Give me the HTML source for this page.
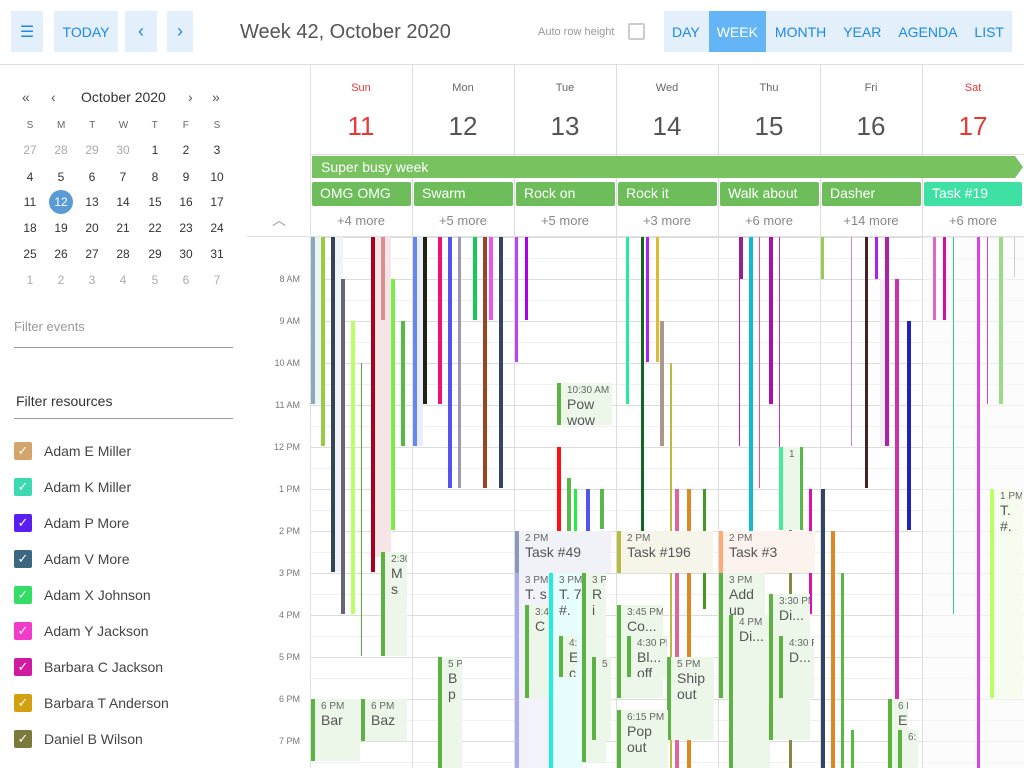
<!DOCTYPE html>
<html><head><meta charset="utf-8"><style>
*{box-sizing:border-box;margin:0;padding:0}
body{width:1024px;height:768px;overflow:hidden;background:#fff;font-family:"Liberation Sans",sans-serif;color:#444;position:relative}
.a{position:absolute}
.btn{position:absolute;top:11px;height:41px;background:#e3f0fc;color:#1e88e5;font-size:14px;display:flex;align-items:center;justify-content:center}
.vb{height:41px;display:flex;align-items:center;padding:0 8px;color:#1e88e5;font-size:14px}
.dh{position:absolute;top:82px;width:102px;text-align:center}
.dh .n{font-size:11px;color:#666}
.dh .d{font-size:26px;color:#555;margin-top:17px}
.red{color:#e53935!important}
.ad{position:absolute;top:182px;height:24px;background:#6dbd5a;color:#fff;font-size:14px;padding:3px 8px;border-radius:2px;z-index:2}
.more{position:absolute;top:213px;width:102px;text-align:center;font-size:13px;color:#888}
.tl{position:absolute;left:250px;width:50px;text-align:right;font-size:9px;color:#777}
.b{position:absolute}
.ev{position:absolute;background:#edf7e9;border-left:4px solid #5db342;overflow:hidden;padding:2px 0 0 6px;white-space:nowrap}
.ev .t{font-size:10px;color:#666}
.ev .h{font-size:14px;color:#555;line-height:16px;white-space:normal}
.mc{position:absolute;width:30px;text-align:center;font-size:12px;color:#333}
.g{color:#aaa}
.cb{position:absolute;left:14px;width:18px;height:18px;border-radius:2px;color:#fff;font-size:13px;text-align:center;line-height:18px}
.cl{position:absolute;left:44px;font-size:14px;color:#444}
</style></head><body>
<!-- top bar -->
<div class="btn" style="left:11px;width:32px;font-size:16px">☰</div>
<div class="btn" style="left:54px;width:64px">TODAY</div>
<div class="btn" style="left:125px;width:32px;font-size:18px">‹</div>
<div class="btn" style="left:167px;width:26px;font-size:18px">›</div>
<div class="a" style="left:240px;top:21px;font-size:20px;color:#555">Week 42, October 2020</div>
<div class="a" style="left:538px;top:26px;font-size:11px;color:#999">Auto row height</div>
<div class="a" style="left:628px;top:23px;width:17px;height:17px;border:2px solid #ccc;border-radius:2px"></div>
<div class="a" style="left:664px;top:11px;height:41px;width:348px;background:#e3f0fc;display:flex;justify-content:space-between">
<div class="vb">DAY</div><div class="vb" style="background:#64b5f6;color:#fff">WEEK</div><div class="vb">MONTH</div><div class="vb">YEAR</div><div class="vb">AGENDA</div><div class="vb">LIST</div></div>
<div class="a" style="left:0;top:64px;width:1024px;height:1px;background:#e0e0e0"></div>
<div class="a" style="left:310px;top:64px;width:1px;height:704px;background:#e0e0e0"></div>

<!-- mini calendar -->
<div class="a" style="left:22px;top:89px;font-size:14px;color:#555">«</div>
<div class="a" style="left:51px;top:89px;font-size:14px;color:#555">‹</div>
<div class="a" style="left:81px;top:89px;font-size:14px;color:#333">October 2020</div>
<div class="a" style="left:188px;top:89px;font-size:14px;color:#555">›</div>
<div class="a" style="left:212px;top:89px;font-size:14px;color:#555">»</div>
<div class="a" style="left:15px;top:120px;width:217px;font-size:10px;color:#666;display:flex;justify-content:space-between"><span style="width:30px;text-align:center">S</span><span style="width:30px;text-align:center">M</span><span style="width:30px;text-align:center">T</span><span style="width:30px;text-align:center">W</span><span style="width:30px;text-align:center">T</span><span style="width:30px;text-align:center">F</span><span style="width:30px;text-align:center">S</span></div>
<div class="a" style="left:49px;top:190px;width:24px;height:24px;border-radius:50%;background:#5b9bd5"></div>
<div class="mc g" style="left:15px;top:143px">27</div><div class="mc g" style="left:46px;top:143px">28</div><div class="mc g" style="left:77px;top:143px">29</div><div class="mc g" style="left:108px;top:143px">30</div><div class="mc" style="left:140px;top:143px">1</div><div class="mc" style="left:171px;top:143px">2</div><div class="mc" style="left:202px;top:143px">3</div>
<div class="mc" style="left:15px;top:170px">4</div><div class="mc" style="left:46px;top:170px">5</div><div class="mc" style="left:77px;top:170px">6</div><div class="mc" style="left:108px;top:170px">7</div><div class="mc" style="left:140px;top:170px">8</div><div class="mc" style="left:171px;top:170px">9</div><div class="mc" style="left:202px;top:170px">10</div>
<div class="mc" style="left:15px;top:195px">11</div><div class="mc" style="left:46px;top:195px;color:#fff">12</div><div class="mc" style="left:77px;top:195px">13</div><div class="mc" style="left:108px;top:195px">14</div><div class="mc" style="left:140px;top:195px">15</div><div class="mc" style="left:171px;top:195px">16</div><div class="mc" style="left:202px;top:195px">17</div>
<div class="mc" style="left:15px;top:221px">18</div><div class="mc" style="left:46px;top:221px">19</div><div class="mc" style="left:77px;top:221px">20</div><div class="mc" style="left:108px;top:221px">21</div><div class="mc" style="left:140px;top:221px">22</div><div class="mc" style="left:171px;top:221px">23</div><div class="mc" style="left:202px;top:221px">24</div>
<div class="mc" style="left:15px;top:247px">25</div><div class="mc" style="left:46px;top:247px">26</div><div class="mc" style="left:77px;top:247px">27</div><div class="mc" style="left:108px;top:247px">28</div><div class="mc" style="left:140px;top:247px">29</div><div class="mc" style="left:171px;top:247px">30</div><div class="mc" style="left:202px;top:247px">31</div>
<div class="mc g" style="left:15px;top:273px">1</div><div class="mc g" style="left:46px;top:273px">2</div><div class="mc g" style="left:77px;top:273px">3</div><div class="mc g" style="left:108px;top:273px">4</div><div class="mc g" style="left:140px;top:273px">5</div><div class="mc g" style="left:171px;top:273px">6</div><div class="mc g" style="left:202px;top:273px">7</div>

<div class="a" style="left:14px;top:319px;font-size:13px;color:#999">Filter events</div>
<div class="a" style="left:14px;top:347px;width:219px;height:1px;background:#999"></div>
<div class="a" style="left:16px;top:393px;font-size:14px;color:#333">Filter resources</div>
<div class="a" style="left:14px;top:418px;width:219px;height:1px;background:#999"></div>
<div class="cb" style="top:442px;background:#d4a56a">✓</div><div class="cl" style="top:443px">Adam E Miller</div>
<div class="cb" style="top:478px;background:#3dd9b0">✓</div><div class="cl" style="top:479px">Adam K Miller</div>
<div class="cb" style="top:514px;background:#5b1ef0">✓</div><div class="cl" style="top:515px">Adam P More</div>
<div class="cb" style="top:550px;background:#3d6680">✓</div><div class="cl" style="top:551px">Adam V More</div>
<div class="cb" style="top:586px;background:#33dd66">✓</div><div class="cl" style="top:587px">Adam X Johnson</div>
<div class="cb" style="top:622px;background:#f03cc8">✓</div><div class="cl" style="top:623px">Adam Y Jackson</div>
<div class="cb" style="top:658px;background:#d01aa0">✓</div><div class="cl" style="top:659px">Barbara C Jackson</div>
<div class="cb" style="top:694px;background:#d4a010">✓</div><div class="cl" style="top:695px">Barbara T Anderson</div>
<div class="cb" style="top:730px;background:#7a7a3a">✓</div><div class="cl" style="top:731px">Daniel B Wilson</div>

<!-- day headers -->
<div class="dh" style="left:310px"><div class="n red">Sun</div><div class="d red">11</div></div>
<div class="dh" style="left:412px"><div class="n">Mon</div><div class="d">12</div></div>
<div class="dh" style="left:514px"><div class="n">Tue</div><div class="d">13</div></div>
<div class="dh" style="left:616px"><div class="n">Wed</div><div class="d">14</div></div>
<div class="dh" style="left:718px"><div class="n">Thu</div><div class="d">15</div></div>
<div class="dh" style="left:820px"><div class="n">Fri</div><div class="d">16</div></div>
<div class="dh" style="left:922px"><div class="n red">Sat</div><div class="d red">17</div></div>
<div class="a" style="left:310px;top:154px;width:714px;height:1px;background:#e0e0e0"></div>
<div class="a" style="left:247px;top:236px;width:777px;height:1px;background:#e0e0e0"></div>
<svg class="a" style="left:311px;top:155px;z-index:2" width="713" height="24"><polygon points="1,1 704,1 712,12 704,23 1,23" fill="#78c260"/><text x="10" y="17" font-size="14" fill="#fff" font-family="Liberation Sans">Super busy week</text></svg>
<div class="ad" style="left:312px;width:99px">OMG OMG</div>
<div class="ad" style="left:414px;width:99px">Swarm</div>
<div class="ad" style="left:516px;width:99px">Rock on</div>
<div class="ad" style="left:618px;width:99px">Rock it</div>
<div class="ad" style="left:720px;width:99px">Walk about</div>
<div class="ad" style="left:822px;width:99px">Dasher</div>
<div class="ad" style="left:924px;width:98px;background:#3ee0a4">Task #19</div>
<div class="more" style="left:310px">+4 more</div><div class="more" style="left:412px">+5 more</div><div class="more" style="left:514px">+5 more</div><div class="more" style="left:616px">+3 more</div><div class="more" style="left:718px">+6 more</div><div class="more" style="left:820px">+14 more</div><div class="more" style="left:922px">+6 more</div>
<div class="a" style="left:272px;top:210px;font-size:14px;color:#999">︿</div>

<!-- grid -->
<div class="a" style="left:310px;top:237px;width:714px;height:531px;background:repeating-linear-gradient(to bottom,#ddd 0,#ddd 1px,transparent 1px,transparent 21px,#f0f0f0 21px,#f0f0f0 22px,transparent 22px,transparent 42px)"></div>
<div class="a" style="left:412px;top:65px;width:1px;height:703px;background:#ddd"></div>
<div class="a" style="left:514px;top:65px;width:1px;height:703px;background:#ddd"></div>
<div class="a" style="left:616px;top:65px;width:1px;height:703px;background:#ddd"></div>
<div class="a" style="left:718px;top:65px;width:1px;height:703px;background:#ddd"></div>
<div class="a" style="left:820px;top:65px;width:1px;height:703px;background:#ddd"></div>
<div class="a" style="left:922px;top:65px;width:1px;height:703px;background:#ddd"></div>
<div class="tl" style="top:274px">8 AM</div><div class="tl" style="top:316px">9 AM</div><div class="tl" style="top:358px">10 AM</div><div class="tl" style="top:400px">11 AM</div><div class="tl" style="top:442px">12 PM</div><div class="tl" style="top:484px">1 PM</div><div class="tl" style="top:526px">2 PM</div><div class="tl" style="top:568px">3 PM</div><div class="tl" style="top:610px">4 PM</div><div class="tl" style="top:652px">5 PM</div><div class="tl" style="top:694px">6 PM</div><div class="tl" style="top:736px">7 PM</div>

<!-- faint bgs -->
<div class="b" style="left:313px;top:237px;width:8px;height:167px;background:#eef3f5"></div>
<div class="b" style="left:335px;top:237px;width:8px;height:335px;background:#f2f3f6"></div>
<div class="b" style="left:375px;top:237px;width:16px;height:320px;background:#f7e4e7"></div>
<div class="b" style="left:415px;top:237px;width:8px;height:209px;background:#eaeefc"></div>
<div class="b" style="left:517px;top:573px;width:30px;height:195px;background:#f2f2fb"></div>
<div class="b" style="left:880px;top:279px;width:10px;height:167px;background:#f7eef5"></div>
<div class="b" style="left:923px;top:237px;width:101px;height:531px;background:#fafafa;opacity:.6"></div>
<!-- bars -->
<div class="b" style="left:311px;top:237px;width:4px;height:167px;background:#88aabb"></div>
<div class="b" style="left:321px;top:237px;width:4px;height:209px;background:#99cc44"></div>
<div class="b" style="left:331px;top:237px;width:4px;height:335px;background:#334455"></div>
<div class="b" style="left:341px;top:279px;width:4px;height:335px;background:#666677"></div>
<div class="b" style="left:351px;top:321px;width:4px;height:293px;background:#bbff66"></div>
<div class="b" style="left:361px;top:363px;width:1px;height:293px;background:#55aa44"></div>
<div class="b" style="left:371px;top:237px;width:4px;height:335px;background:#aa0022"></div>
<div class="b" style="left:381px;top:237px;width:4px;height:83px;background:#d99090"></div>
<div class="b" style="left:391px;top:279px;width:4px;height:251px;background:#77ee44"></div>
<div class="b" style="left:401px;top:321px;width:4px;height:125px;background:#55bb44"></div>
<div class="b" style="left:413px;top:237px;width:4px;height:209px;background:#6688ee"></div>
<div class="b" style="left:423px;top:237px;width:4px;height:167px;background:#222211"></div>
<div class="b" style="left:438px;top:237px;width:4px;height:167px;background:#ee1177"></div>
<div class="b" style="left:448px;top:237px;width:4px;height:251px;background:#5555ee"></div>
<div class="b" style="left:458px;top:237px;width:3px;height:251px;background:#9999bb"></div>
<div class="b" style="left:473px;top:237px;width:4px;height:83px;background:#11cc55"></div>
<div class="b" style="left:483px;top:237px;width:4px;height:251px;background:#994422"></div>
<div class="b" style="left:489px;top:237px;width:4px;height:83px;background:#ee55ee"></div>
<div class="b" style="left:499px;top:237px;width:4px;height:251px;background:#334466"></div>
<div class="b" style="left:515px;top:237px;width:3px;height:125px;background:#bb44ee"></div>
<div class="b" style="left:525px;top:237px;width:3px;height:83px;background:#aa00ee"></div>
<div class="b" style="left:557px;top:447px;width:4px;height:110px;background:#ff1111"></div>
<div class="b" style="left:567px;top:478px;width:4px;height:90px;background:#55bb44"></div>
<div class="b" style="left:574px;top:489px;width:3px;height:70px;background:#22ee44"></div>
<div class="b" style="left:586px;top:489px;width:4px;height:70px;background:#5555ee"></div>
<div class="b" style="left:600px;top:489px;width:4px;height:40px;background:#55bb44"></div>
<div class="b" style="left:626px;top:237px;width:3px;height:167px;background:#22ee99"></div>
<div class="b" style="left:641px;top:237px;width:3px;height:320px;background:#116622"></div>
<div class="b" style="left:646px;top:237px;width:3px;height:125px;background:#aa22ee"></div>
<div class="b" style="left:656px;top:237px;width:3px;height:125px;background:#ddbb33"></div>
<div class="b" style="left:660px;top:321px;width:4px;height:125px;background:#aa9988"></div>
<div class="b" style="left:670px;top:363px;width:2px;height:405px;background:#bbbb44"></div>
<div class="b" style="left:675px;top:489px;width:4px;height:279px;background:#dd6699"></div>
<div class="b" style="left:687px;top:489px;width:4px;height:279px;background:#dd8822"></div>
<div class="b" style="left:703px;top:489px;width:3px;height:120px;background:#449922"></div>
<div class="b" style="left:739px;top:237px;width:4px;height:42px;background:#992288"></div>
<div class="b" style="left:739px;top:279px;width:1px;height:167px;background:#bb22bb"></div>
<div class="b" style="left:749px;top:237px;width:4px;height:531px;background:#11bbcc"></div>
<div class="b" style="left:759px;top:237px;width:1px;height:251px;background:#dd5588"></div>
<div class="b" style="left:769px;top:237px;width:4px;height:167px;background:#aa11aa"></div>
<div class="b" style="left:779px;top:237px;width:1px;height:210px;background:#bb33bb"></div>
<div class="b" style="left:789px;top:489px;width:3px;height:279px;background:#888844"></div>
<div class="b" style="left:799px;top:447px;width:4px;height:83px;background:#55bb44"></div>
<div class="b" style="left:809px;top:489px;width:3px;height:125px;background:#dd11aa"></div>
<div class="b" style="left:821px;top:237px;width:3px;height:42px;background:#99cc55"></div>
<div class="b" style="left:821px;top:489px;width:4px;height:279px;background:#334466"></div>
<div class="b" style="left:831px;top:531px;width:4px;height:237px;background:#dd8822"></div>
<div class="b" style="left:841px;top:573px;width:3px;height:195px;background:#55bb44"></div>
<div class="b" style="left:851px;top:237px;width:1px;height:209px;background:#cc88cc"></div>
<div class="b" style="left:851px;top:730px;width:3px;height:38px;background:#55bb44"></div>
<div class="b" style="left:865px;top:237px;width:3px;height:251px;background:#442222"></div>
<div class="b" style="left:875px;top:237px;width:3px;height:42px;background:#aa22ee"></div>
<div class="b" style="left:885px;top:237px;width:4px;height:209px;background:#aa22aa"></div>
<div class="b" style="left:895px;top:279px;width:4px;height:489px;background:#cc33aa"></div>
<div class="b" style="left:907px;top:321px;width:4px;height:209px;background:#2222bb"></div>
<div class="b" style="left:933px;top:237px;width:3px;height:83px;background:#dd66cc"></div>
<div class="b" style="left:943px;top:237px;width:3px;height:83px;background:#cc11aa"></div>
<div class="b" style="left:953px;top:237px;width:1px;height:377px;background:#33cc88"></div>
<div class="b" style="left:977px;top:237px;width:3px;height:531px;background:#dd44dd"></div>
<div class="b" style="left:987px;top:237px;width:1px;height:167px;background:#cc44cc"></div>
<div class="b" style="left:999px;top:237px;width:4px;height:167px;background:#99dd88"></div>
<div class="b" style="left:1014px;top:237px;width:1px;height:40px;background:#ccc"></div>

<!-- text events -->
<div class="ev" style="left:557px;top:383px;width:55px;height:42px"><div class="t">10:30 AM</div><div class="h">Pow wow</div></div>
<div class="ev" style="left:779px;top:447px;width:21px;height:83px;border-color:#44ee99"><div class="t">1</div></div>
<div class="ev" style="left:990px;top:489px;width:32px;height:209px;border-color:#bbff66;background:#f6fcee"><div class="t">1 PM</div><div class="h">T. #.</div></div>
<div class="ev" style="left:515px;top:531px;width:96px;height:42px;border-color:#8899bb;background:#f0f2f7"><div class="t">2 PM</div><div class="h">Task #49</div></div>
<div class="ev" style="left:617px;top:531px;width:96px;height:42px;border-color:#bbbb44;background:#f5f5ea"><div class="t">2 PM</div><div class="h">Task #196</div></div>
<div class="ev" style="left:719px;top:531px;width:96px;height:42px;border-color:#ffaa77;background:#fdf3ee"><div class="t">2 PM</div><div class="h">Task #3</div></div>
<div class="ev" style="left:381px;top:552px;width:26px;height:104px"><div class="t">2:30</div><div class="h">M s</div></div>
<div class="ev" style="left:515px;top:573px;width:34px;height:195px;border-color:#aaaaee;background:#f2f2fb"><div class="t">3 PM</div><div class="h">T. s</div></div>
<div class="ev" style="left:525px;top:605px;width:24px;height:93px"><div class="t">3:4</div><div class="h">C</div></div>
<div class="ev" style="left:549px;top:573px;width:34px;height:195px;border-color:#22eedd;background:#e8fdfd"><div class="t">3 PM</div><div class="h">T. 7 #.</div></div>
<div class="ev" style="left:559px;top:636px;width:18px;height:41px"><div class="t">4:3</div><div class="h">E c</div></div>
<div class="ev" style="left:582px;top:573px;width:24px;height:189px"><div class="t">3 P</div><div class="h">R i</div></div>
<div class="ev" style="left:592px;top:657px;width:19px;height:83px"><div class="t">5</div></div>
<div class="ev" style="left:617px;top:605px;width:46px;height:93px"><div class="t">3:45 PM</div><div class="h">Co...</div></div>
<div class="ev" style="left:627px;top:636px;width:40px;height:41px"><div class="t">4:30 PM</div><div class="h">Bl... off</div></div>
<div class="ev" style="left:667px;top:657px;width:47px;height:83px"><div class="t">5 PM</div><div class="h">Ship out</div></div>
<div class="ev" style="left:617px;top:710px;width:51px;height:58px"><div class="t">6:15 PM</div><div class="h">Pop out</div></div>
<div class="ev" style="left:719px;top:573px;width:46px;height:125px"><div class="t">3 PM</div><div class="h">Add up</div></div>
<div class="ev" style="left:729px;top:615px;width:41px;height:153px"><div class="t">4 PM</div><div class="h">Di...</div></div>
<div class="ev" style="left:769px;top:594px;width:41px;height:146px"><div class="t">3:30 PM</div><div class="h">Di...</div></div>
<div class="ev" style="left:779px;top:636px;width:35px;height:62px"><div class="t">4:30 PM</div><div class="h">D...</div></div>
<div class="ev" style="left:438px;top:657px;width:24px;height:111px"><div class="t">5 P</div><div class="h">B p</div></div>
<div class="ev" style="left:311px;top:699px;width:49px;height:62px"><div class="t">6 PM</div><div class="h">Bar</div></div>
<div class="ev" style="left:361px;top:699px;width:46px;height:42px"><div class="t">6 PM</div><div class="h">Baz</div></div>
<div class="ev" style="left:888px;top:699px;width:20px;height:69px"><div class="t">6 P</div><div class="h">E</div></div>
<div class="ev" style="left:898px;top:730px;width:20px;height:38px"><div class="t">6:</div></div>
</body></html>
